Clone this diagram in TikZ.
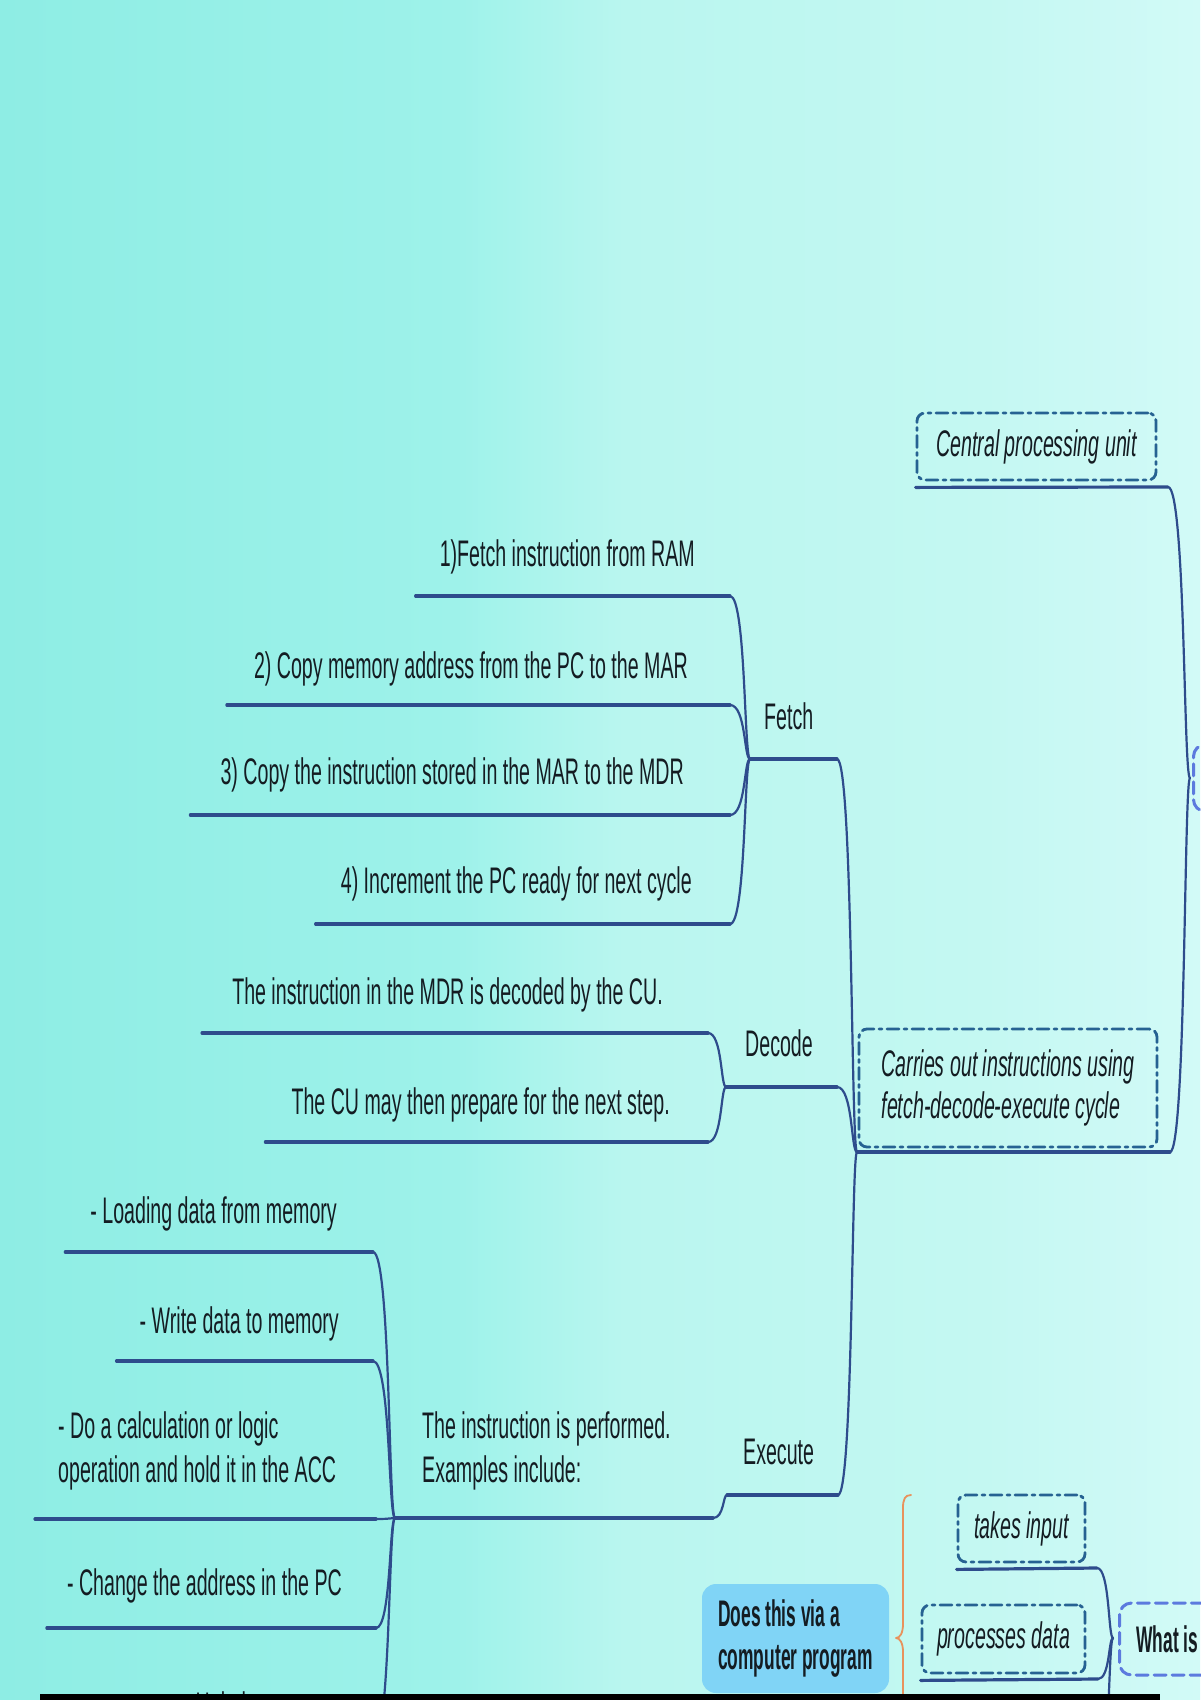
\documentclass[tikz,border=0pt]{standalone}
\usepackage{fontspec}
\setmainfont{Liberation Sans}[FakeStretch=0.53]
\newfontfamily\boldcond{Liberation Sans}[FakeStretch=0.47]
\usetikzlibrary{calc}
\definecolor{lnc}{RGB}{46,76,140}
\definecolor{bxc}{RGB}{38,98,146}
\definecolor{rtc}{RGB}{92,122,222}
\definecolor{txc}{RGB}{20,28,34}
\definecolor{brc}{RGB}{232,146,92}
\definecolor{sumc}{RGB}{128,212,246}
\definecolor{bgA}{RGB}{142,237,228}
\definecolor{bgB}{RGB}{158,242,234}
\definecolor{bgC}{RGB}{185,246,239}
\definecolor{bgD}{RGB}{196,248,242}
\definecolor{bgE}{RGB}{210,250,247}
\pgfdeclarehorizontalshading{bgshade}{100bp}{color(0bp)=(bgA); color(25bp)=(bgA); color(44bp)=(bgB); color(51bp)=(bgC); color(66bp)=(bgD); color(75bp)=(bgE); color(100bp)=(bgE)}
\tikzset{
  tx/.style={font=\fontsize{37}{44}\selectfont, text=txc, inner sep=0pt},
  ul/.style={draw=lnc, line width=3.2pt},
  lk/.style={draw=lnc, line width=2.2pt,
    to path={.. controls ($(\tikztostart)!0.8!(\tikztotarget|-\tikztostart)$) and ($(\tikztotarget)!0.3!(\tikztostart|-\tikztotarget)$) .. (\tikztotarget)}},
  ibox/.style={font=\fontsize{37}{42}\selectfont\itshape, text=txc, inner sep=0pt, draw=bxc, line width=2.8pt,
    dash pattern=on 12pt off 5pt on 3pt off 5pt, rounded corners=8pt, align=left},
  rbox/.style={draw=rtc, line width=3pt, dash pattern=on 12pt off 6pt, rounded corners=12pt, inner ysep=0pt},
  sumbox/.style={fill=sumc, rounded corners=14pt, font=\fontsize{37}{43}\selectfont\boldcond\bfseries, text=txc, align=left, inner sep=0pt},
  bracestyle/.style={draw=brc, line width=1.8pt}
}
\begin{document}
\begin{tikzpicture}[x=1pt, y=-1pt, line join=round, line cap=round]
\useasboundingbox (0,0) rectangle (1200,1700);
\shade[shading=bgshade] (0,0) rectangle (1200,1700);

% ---------- right-hand nodes ----------
\coordinate (rj) at (1190,778);
\node[rbox, anchor=west, minimum width=160pt, minimum height=67pt] (rt) at (1192,778) {};
\node[ibox, minimum width=239pt, minimum height=67pt] (cpu) at (1036.5,446.5) {Central processing unit};
\coordinate (cpuu) at (1168,487);
\draw[ul] ($(cpu.south west)+(0,6)$) -- (cpuu);
\draw[lk] (cpuu) to (rj);

\coordinate (mj) at (857,1152);
\node[ibox, minimum width=298pt, minimum height=118pt] (cfe) at (1008,1088) {Carries out instructions using\\fetch-decode-execute cycle};
\coordinate (cu) at (1170,1152);
\draw[ul] (mj) -- (cu);
\draw[lk] (cu) to (rj);

% ---------- Fetch ----------
\coordinate (fj) at (750,759);
\coordinate (fu) at (837,759);
\node[tx, anchor=base west] (fetch) at (764,729) {Fetch};
\draw[ul] (fj) -- (fu);
\draw[lk] (fu) to (mj);

\node[tx, anchor=base east] (f1) at (695,566) {1)Fetch instruction from RAM};
\coordinate (f1u) at (730,596);
\draw[ul] ($(f1.west|-f1u)+(-24,0)$) -- (f1u);
\draw[lk] (f1u) to (fj);

\node[tx, anchor=base east] (f2) at (688,678) {2) Copy memory address from the PC to the MAR};
\coordinate (f2u) at (730,705);
\draw[ul] ($(f2.west|-f2u)+(-27,0)$) -- (f2u);
\draw[lk] (f2u) to (fj);

\node[tx, anchor=base east] (f3) at (684,784) {3) Copy the instruction stored in the MAR to the MDR};
\coordinate (f3u) at (730,815);
\draw[ul] ($(f3.west|-f3u)+(-30,0)$) -- (f3u);
\draw[lk] (f3u) to (fj);

\node[tx, anchor=base east] (f4) at (692,893) {4) Increment the PC ready for next cycle};
\coordinate (f4u) at (730,924);
\draw[ul] ($(f4.west|-f4u)+(-25,0)$) -- (f4u);
\draw[lk] (f4u) to (fj);

% ---------- Decode ----------
\coordinate (dj) at (726,1087);
\coordinate (du) at (837,1087);
\node[tx, anchor=base west] (decode) at (745,1056) {Decode};
\draw[ul] (dj) -- (du);
\draw[lk] (du) to (mj);

\node[tx, anchor=base east] (d1) at (663,1004) {The instruction in the MDR is decoded by the CU.};
\coordinate (d1u) at (708,1033);
\draw[ul] ($(d1.west|-d1u)+(-30,0)$) -- (d1u);
\draw[lk] (d1u) to (dj);

\node[tx, anchor=base east] (d2) at (670,1114) {The CU may then prepare for the next step.};
\coordinate (d2u) at (708,1142);
\draw[ul] ($(d2.west|-d2u)+(-26,0)$) -- (d2u);
\draw[lk] (d2u) to (dj);

% ---------- Execute ----------
\coordinate (ej) at (727,1495);
\coordinate (eu) at (838,1495);
\node[tx, anchor=base west] (execute) at (743,1464) {Execute};
\draw[ul] (ej) -- (eu);
\draw[lk] (eu) to (mj);

\coordinate (sj) at (395,1518);
\coordinate (pu) at (713,1518);
\node[tx, anchor=west, align=left] (perf) at (422,1451) {The instruction is performed.\\Examples include:};
\draw[ul] (sj) -- (pu);
\draw[lk] (pu) to (ej);

\node[tx, anchor=base east] (e1) at (337,1223) {- Loading data from memory};
\coordinate (e1u) at (373,1252);
\draw[ul] ($(e1.west|-e1u)+(-25,0)$) -- (e1u);
\draw[lk] (e1u) to (sj);

\node[tx, anchor=base east] (e2) at (339,1333) {- Write data to memory};
\coordinate (e2u) at (373,1361);
\draw[ul] ($(e2.west|-e2u)+(-23,0)$) -- (e2u);
\draw[lk] (e2u) to (sj);

\node[tx, anchor=west, align=left] (e3) at (58,1451) {- Do a calculation or logic\\operation and hold it in the ACC};
\coordinate (e3u) at (376,1519);
\draw[ul] ($(e3.west|-e3u)+(-23,0)$) -- (e3u);
\draw[lk] (e3u) to (sj);

\node[tx, anchor=base east] (e4) at (342,1595) {- Change the address in the PC};
\coordinate (e4u) at (376,1628);
\draw[ul] ($(e4.west|-e4u)+(-20,0)$) -- (e4u);
\draw[lk] (e4u) to (sj);

\node[tx, anchor=base east] (e5) at (342,1718) {- Halt the program};
\coordinate (e5u) at (373,1745);
\draw[ul] ($(e5.west|-e5u)+(-24,0)$) -- (e5u);
\draw[lk] (e5u) to (sj);

% ---------- bottom right ----------
\coordinate (wj) at (1113,1638);
\node[rbox, anchor=west, inner xsep=17pt, minimum height=72pt, font=\fontsize{37}{44}\selectfont\boldcond\bfseries, text=txc] (what) at (1118,1639) {What is};

\node[ibox, minimum width=127pt, minimum height=67pt] (ti) at (1021.5,1528.5) {takes input};
\coordinate (tiu) at (1097,1568);
\draw[ul] ($(ti.south west)+(0,6)$) -- (tiu);
\draw[lk] (tiu) to (wj);

\node[ibox, minimum width=163pt, minimum height=68pt] (pd) at (1003.5,1639) {processes data};
\coordinate (pdu) at (1098,1679);
\draw[ul] ($(pd.south west)+(0,6)$) -- (pdu);
\draw[lk] (pdu) to (wj);

\coordinate (w3u) at (1097,1790);
\draw[lk] (w3u) to (wj);

% summary brace
\draw[bracestyle] (911,1495) .. controls (905,1495) and (903,1499) .. (903,1508)
  -- (903,1624) .. controls (903,1633) and (900,1638) .. (896,1638)
  .. controls (900,1638) and (903,1643) .. (903,1652) -- (903,1770);
\node[sumbox, minimum width=187pt, minimum height=109pt] (sum) at (795.5,1638.5) {Does this via a\\computer program};

% bottom bar
\fill[black] (40,1694) rectangle (1160,1700);
\end{tikzpicture}
\end{document}
